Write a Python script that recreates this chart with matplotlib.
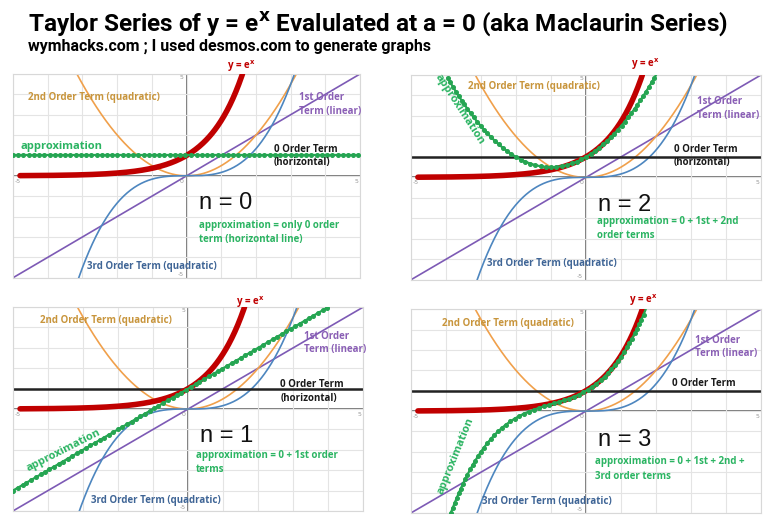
import numpy as np
import matplotlib.pyplot as plt

plt.rcParams['font.family'] = ['Open Sans', 'DejaVu Sans']
plt.rcParams['mathtext.fontset'] = 'dejavusans'

# ---- data ----
x_lim = [-5, 5]
y_lim = [-5, 5]
taylor_coeffs = [1, 1, 1 / 2, 1 / 6]      # e^x series: 1 + x + x^2/2 + x^3/6
panel_orders = [0, 2, 1, 3]               # top-left, top-right, bottom-left, bottom-right
approx_start = [-5.0, -3.95, -5.0, -3.86]
approx_end = [5.0, 2.0, 4.0, 1.70]
exp_start = -4.8
exp_end = 1.61
captions = ['approximation = only 0 order\nterm (horizontal line)',
            'approximation = 0 + 1st + 2nd\norder terms',
            'approximation = 0 + 1st order\nterms',
            'approximation = 0 + 1st + 2nd +\n3rd order terms']
zero_labels = ['0 Order Term\n(horizontal)', '0 Order Term\n(horizontal)',
               '0 Order Term\n(horizontal)', '0 Order Term']

# label positions in data coords
approx_lbl = [(-3.6, 1.45, 0), (-3.6, 3.3, -57), (-3.55, -2.05, 27), (-3.72, -2.2, 68)]
second_lbl = [(-4.57, 3.82), (-3.37, 4.44), (-4.23, 4.36), (-4.1, 4.3)]
first_lbl = [(3.23, 3.5), (3.17, 3.37), (3.31, 3.24), (3.11, 3.14)]
zero_lbl = [(2.51, 0.96), (2.51, 1.05), (2.63, 0.86), (2.46, 1.37)]
n_lbl = [(0.37, -1.32), (0.34, -1.37), (0.34, -1.32), (0.34, -1.42)]
cap_lbl = [(0.37, -2.8), (0.31, -2.5), (0.23, -2.62), (0.26, -2.84)]
third_lbl = [(-2.86, -4.46), (-2.83, -4.2), (-2.77, -4.5), (-2.97, -4.46)]
exp_lbl = [(1.57, 5.35), (1.69, 5.5), (1.77, 5.25), (1.63, 5.45)]

# axes rectangles [left, bottom, width, height] in figure fraction
rects = [[0.017, 0.470, 0.452, 0.389],
         [0.535, 0.466, 0.456, 0.391],
         [0.017, 0.025, 0.456, 0.389],
         [0.535, 0.021, 0.456, 0.389]]

c_red = '#c00000'
c_orange = '#f0a04b'
c_purple = '#7d5ab5'
c_blue = '#4d86bf'
c_green = '#25a552'
c_green_txt = '#2bb462'

fig = plt.figure(figsize=(7.68, 5.24), dpi=100)

fig.text(0.036, 0.955, 'Taylor Series of y = e$^{\\mathbf{x}}$ Evalulated at a = 0 (aka Maclaurin Series)',
         family=['Liberation Sans Narrow', 'Roboto', 'DejaVu Sans'], weight='bold',
         fontsize=17.5, va='center', ha='left')
fig.text(0.036, 0.912, 'wymhacks.com ; I used desmos.com to generate graphs',
         family=['Liberation Sans Narrow', 'Roboto', 'DejaVu Sans'], weight='bold',
         fontsize=11.5, va='center', ha='left')

x = np.linspace(x_lim[0], x_lim[1], 600)
lbl_fs = 7

for i in range(4):
    ax = fig.add_axes(rects[i])
    ax.set_xlim(x_lim)
    ax.set_ylim(y_lim)
    ax.set_xticks(np.arange(-5, 6, 1))
    ax.set_yticks(np.arange(-5, 6, 1))
    ax.tick_params(length=0, labelbottom=False, labelleft=False)
    ax.grid(True, color='#e4e4e4', lw=0.8)
    for sp in ax.spines.values():
        sp.set_color('#d8d8d8')
        sp.set_linewidth(0.8)
    ax.axhline(0, color='#666666', lw=1.2, zorder=1)
    ax.axvline(0, color='#666666', lw=1.2, zorder=1)
    tk = dict(fontsize=4.5, color='#999999', family='DejaVu Sans')
    ax.text(-4.95, -0.15, '-5', ha='left', va='top', **tk)
    ax.text(4.95, -0.15, '5', ha='right', va='top', **tk)
    ax.text(-0.08, -0.15, '0', ha='right', va='top', **tk)
    ax.text(-0.08, 4.95, '5', ha='right', va='top', **tk)
    ax.text(-0.08, -4.95, '-5', ha='right', va='bottom', **tk)

    # individual terms
    ax.plot(x, taylor_coeffs[1] * x, color=c_purple, lw=1.2, zorder=2)
    ax.plot(x, taylor_coeffs[2] * x ** 2, color=c_orange, lw=1.2, zorder=2)
    ax.plot(x, taylor_coeffs[3] * x ** 3, color=c_blue, lw=1.2, zorder=2)
    if panel_orders[i] > 0:
        ax.axhline(taylor_coeffs[0], color='#222222', lw=1.8, zorder=2)

    # e^x
    xe = np.linspace(exp_start, exp_end, 300)
    ax.plot(xe, np.exp(xe), color=c_red, lw=4, solid_capstyle='round', zorder=4)

    # approximation of order n
    n = panel_orders[i]
    xa = np.linspace(approx_start[i], approx_end[i], 400)
    ya = sum(taylor_coeffs[k] * xa ** k for k in range(n + 1))
    ax.plot(xa, ya, color=c_green, lw=1.6, marker='o', markersize=2.6,
            markevery=0.013, zorder=5)

    # labels
    bold = dict(weight='bold', fontsize=lbl_fs)
    ax.text(*exp_lbl[i], 'y = e$^{\\mathbf{x}}$', color=c_red, ha='center', va='center',
            clip_on=False, **bold)
    ax.text(*second_lbl[i], '2nd Order Term (quadratic)', color='#c8953c', ha='left',
            va='center', zorder=6, **bold)
    ax.text(*first_lbl[i], '1st Order\nTerm (linear)', color='#8a5fb5', ha='left',
            va='center', linespacing=1.3, zorder=6, **bold)
    ax.text(*zero_lbl[i], zero_labels[i], color='#1a1a1a', ha='left', va='center',
            linespacing=1.3, zorder=6, **bold)
    ax.text(*third_lbl[i], '3rd Order Term (quadratic)', color='#3f6596', ha='left',
            va='center', zorder=6, **bold)
    ax.text(*cap_lbl[i], captions[i], color=c_green_txt, ha='left', va='center',
            linespacing=1.4, zorder=6, **bold)
    ax.text(*n_lbl[i], 'n = %d' % n, family=['Liberation Sans', 'DejaVu Sans'],
            fontsize=17, color='#111111', ha='left', va='center', zorder=6)
    ax_x, ax_y, rot = approx_lbl[i]
    ax.text(ax_x, ax_y, 'approximation', color=c_green_txt, rotation=rot,
            rotation_mode='anchor', ha='center', va='center', zorder=6,
            weight='bold', fontsize=8)

fig.savefig('out.png', dpi=100)
